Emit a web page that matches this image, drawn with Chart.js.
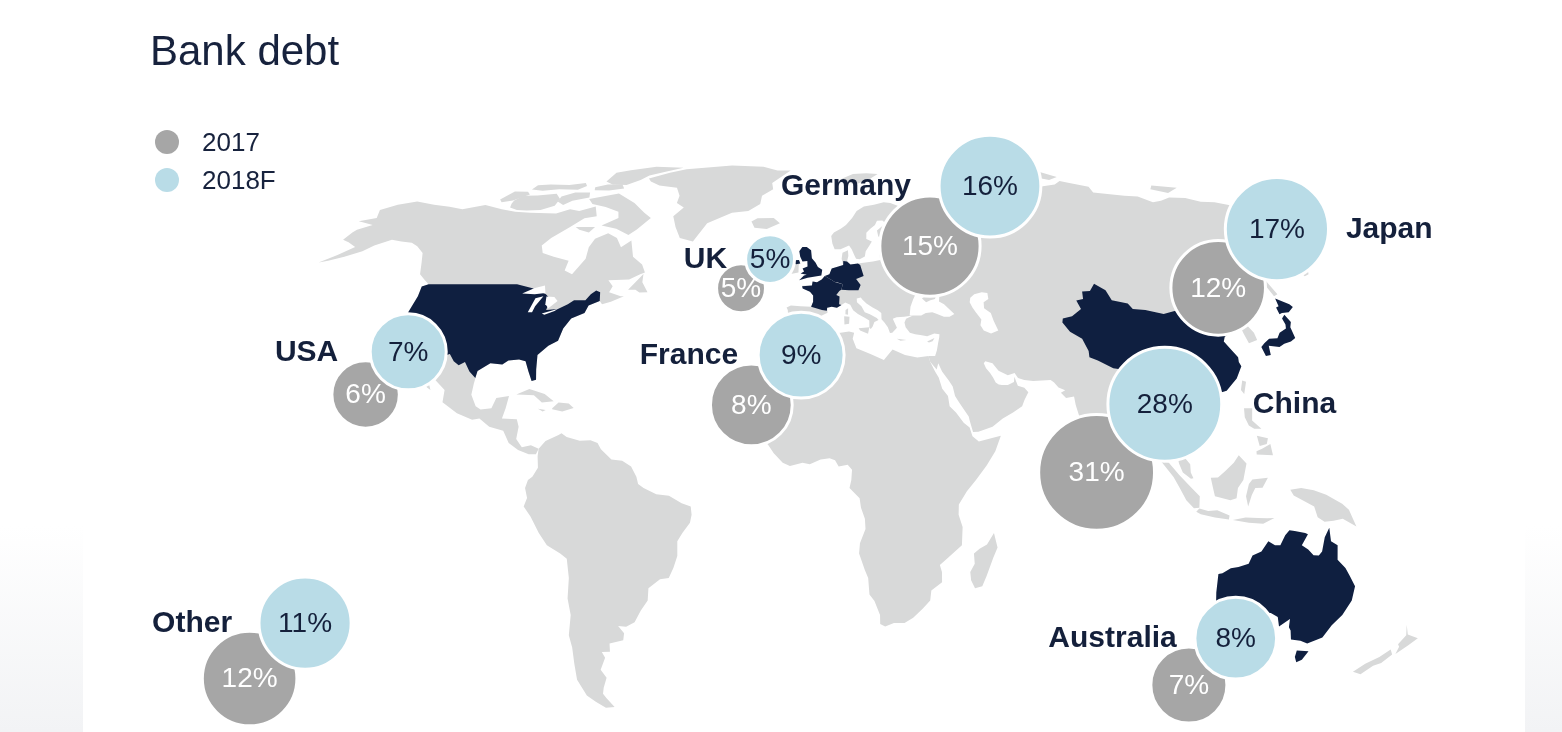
<!DOCTYPE html>
<html>
<head>
<meta charset="utf-8">
<title>Bank debt</title>
<script src="https://cdn.jsdelivr.net/npm/chart.js@4.4.1/dist/chart.umd.min.js"></script>
<style>
  html, body { margin: 0; padding: 0; background: #fff; }
  #wrap { position: relative; width: 1562px; height: 732px; overflow: hidden; font-family: "Liberation Sans", Arial, sans-serif; }
  .shade { position: absolute; background: linear-gradient(#ffffff, #f2f3f5); }
  #title { position: absolute; left: 150px; top: 30px; font-size: 42px; line-height: 42px; color: #17223d; }
  #legend { position: absolute; left: 155px; top: 123px; }
  .item { display: flex; align-items: center; height: 38px; font-size: 26px; color: #17223d; }
  .dot { width: 24px; height: 24px; border-radius: 50%; margin-right: 23px; }
  #chartBox { position: absolute; left: 0; top: 0; width: 1562px; height: 732px; }
</style>
</head>
<body>
<div id="wrap">
  <div class="shade" style="left:0;top:525px;width:83px;height:207px"></div>
  <div class="shade" style="left:1525px;top:525px;width:37px;height:207px"></div>
  <div id="chartBox"><canvas id="myChart"></canvas></div>
  <div id="title">Bank debt</div>
  <div id="legend"></div>
</div>
<script>
// ---- data ----
const countries = ["USA", "UK", "France", "Germany", "Japan", "China", "Australia", "Other"];
const share2017 = [6, 5, 8, 15, 12, 31, 7, 12];
const share2018F = [7, 5, 9, 16, 17, 28, 8, 11];
const seriesNames = ["2017", "2018F"];

// where each 2018F bubble sits on the map (lon, lat), which side the name goes, and how far
const bubbleAnchors = {
  USA: [-118.8, 32.3, "left", 70],
  UK: [-15.6, 55.4, "left", 43],
  France: [-4.6, 31.5, "left", 63],
  Germany: [72.2, 76.0, "left", 79],
  Japan: [164.8, 63.4, "right", 69],
  China: [97.9, 19.5, "right", 88],
  Australia: [124.4, -37.7, "left", 59],
  Other: [-149.7, -34.0, "left", 73],
};

const GREY = "#a6a6a6";
const BLUE = "#b9dce7";
const NAVY = "#0f1f40";
const TEXT = "#14203b";
const LAND_GREY = "#d8d9d9";

// ---- map projection (Robinson) ----
const XT = [1, 0.9986, 0.9954, 0.99, 0.9822, 0.973, 0.96, 0.9427, 0.9216, 0.8962, 0.8679, 0.835, 0.7986, 0.7597, 0.7186, 0.6732, 0.6213, 0.5722, 0.5322];
const YT = [0, 0.062, 0.124, 0.186, 0.248, 0.31, 0.372, 0.434, 0.4958, 0.5571, 0.6176, 0.6769, 0.7346, 0.7903, 0.8435, 0.8936, 0.9394, 0.9761, 1];
const robinson = (lon, lat) => {
  const a = Math.min(Math.abs(lat), 89.99) / 5;
  const i = Math.floor(a), f = a - i;
  const xt = XT[i] + (XT[i + 1] - XT[i]) * f;
  const yt = YT[i] + (YT[i + 1] - YT[i]) * f;
  return { x: 0.8487 * xt * lon * Math.PI / 180, y: 1.3523 * yt * Math.sign(lat) };
};
const UNIT = 244; // pixels per projected unit

// ---- simplified coastlines ----
const LAND = [
  // North + Central America
  [[-166,68.8],[-162,70.3],[-156.5,71.3],[-148,70.3],[-141,69.7],[-135,69],[-128,70.2],[-120,69],[-114,68.3],[-108,68],[-98,67.8],[-94,69],[-90,68.5],[-85,69.8],[-82,67],[-86,66.4],[-89,64],[-93,61],[-94.5,59],[-92.5,57],[-88,56],[-82.3,55],[-82,52.5],[-79,51.5],[-77,55.5],[-78,58.5],[-77.5,60.8],[-74,62.3],[-70,61],[-67,58.5],[-64.5,60.3],[-61.5,56],[-57.5,54],[-55.7,52],[-57,51.5],[-60,50.2],[-66.5,50],[-64.5,48.5],[-65,47],[-61,46],[-60,46],[-63.5,44.6],[-66,44],[-67,44.8],[-70,43.7],[-70.5,41.8],[-74,40.5],[-75.5,38],[-76,35],[-78.5,33.8],[-81,31.5],[-80.5,28],[-80,25.5],[-81.2,25.2],[-82.6,27.5],[-84,30],[-86,30.4],[-89,30.2],[-90.5,29.2],[-94,29.5],[-97.2,27.6],[-97.5,24.5],[-97.7,21.8],[-96,19],[-94.5,18.2],[-91.5,18.5],[-90.5,21],[-87,21.5],[-87.5,18.5],[-88.2,16],[-84,15.8],[-83.3,14],[-83.7,11],[-82,9],[-79.5,9.5],[-77.3,8.6],[-78,7.3],[-80,7.3],[-83,8.3],[-85.7,10],[-87.5,13],[-91.5,14],[-94.5,16],[-96.5,15.7],[-101,17.3],[-105.5,20],[-105.5,23],[-109.5,26],[-112.5,29.5],[-114.7,31.5],[-113,29],[-112,26.5],[-110,24],[-109.5,23],[-110.5,23.5],[-112.2,24.8],[-114,27.5],[-115,29.5],[-116.5,31.5],[-117.1,32.5],[-118.5,34],[-120.6,34.5],[-122.5,37.5],[-124.2,40.5],[-124,46],[-124.7,48.4],[-123,49],[-125,50],[-128,51.5],[-130.5,54.5],[-133,57],[-137,58.8],[-140,59.7],[-144,60],[-148,60.5],[-152,59],[-154,57.5],[-158,56],[-162,55],[-164.5,54.5],[-161,56.5],[-158,58.6],[-162,59.8],[-165,60.5],[-165,62.5],[-164.5,63.2],[-161,64.5],[-166,65.3],[-168,65.6],[-163,66.5]],
  // Arctic Canada
  [[-125,71.9],[-123,74.3],[-117.5,74.2],[-115.5,73.4],[-119.5,71.6],[-123,71]],
  [[-119,71.6],[-117.5,73],[-112,73.1],[-105,73.6],[-101.5,72],[-101,70],[-105,68.8],[-110,68.6],[-114,68.8],[-117.5,69.5],[-118.5,70.6]],
  [[-117,76.3],[-112,76.5],[-104,76.4],[-98,77],[-96,76],[-98,74.8],[-106,75],[-112,74.5],[-117,74.9]],
  [[-102,72.8],[-98,74],[-92,74],[-90.5,72.5],[-96,71.5],[-98,70.2],[-101.5,71.3]],
  [[-92,75.6],[-88,76.5],[-82,76.6],[-79.5,75.2],[-85,74.6],[-91,74.7]],
  [[-90,77.5],[-90,80.5],[-85,81.6],[-75,83],[-62,82.6],[-68,81],[-74,79.5],[-76,78],[-80,76.4],[-86,76.5]],
  [[-90,72],[-80,73.7],[-71,70.8],[-65,68],[-61.5,66.5],[-64.5,63.3],[-66.5,61.8],[-72,63.5],[-78,64.4],[-73.5,66.5],[-75,68.3],[-81,69.6],[-87,70.5]],
  [[-87,64],[-80,64],[-81,62.5],[-85,63.2]],
  [[-59.3,47.6],[-56,51.6],[-55.5,49.5],[-53,47],[-55.5,46.9],[-57,47.6]],
  // Greenland, Iceland
  [[-73,78.5],[-66,80.5],[-60,82],[-40,83.5],[-25,83],[-18,81.5],[-12,81.5],[-19,77],[-18,75],[-22,73],[-22,70.5],[-26,68.5],[-32,68],[-40,65],[-43,60],[-48,61],[-51,64],[-53.5,67],[-51,69.5],[-54.5,70.8],[-55,73],[-58,75.5],[-66,76.2],[-71,77.5]],
  [[-24,65.5],[-22,66.4],[-16,66.5],[-13.5,65],[-18,63.4],[-22.5,63.8]],
  // Caribbean
  [[-85,21.9],[-81.5,23.2],[-77,22],[-74.2,20.2],[-77.5,19.9],[-80,21.7],[-83,21.8]],
  [[-74.4,18.5],[-72.8,19.9],[-69.9,19.7],[-68.4,18.6],[-71.5,17.7],[-74.4,18.3]],
  [[-78.4,18.4],[-76.2,18.1],[-77,17.7]],
  // South America
  [[-77.3,8.6],[-75.5,10.5],[-72,12],[-71.2,12.4],[-69.7,11.5],[-66,10.6],[-63,10.7],[-61,10],[-60,8.5],[-57,6],[-54,5.7],[-51.5,4.3],[-50,1.8],[-49.5,0],[-48,-1],[-44.5,-2.5],[-41,-2.9],[-37.5,-4.7],[-35,-5.5],[-34.8,-7.5],[-35.3,-9.5],[-37.5,-12],[-39,-14],[-39.2,-17.6],[-40.5,-20.5],[-42,-23],[-44.5,-23.3],[-48,-25.5],[-48.6,-28.5],[-51,-31],[-53.3,-33.8],[-56,-34.9],[-58.3,-34.7],[-57,-36.5],[-57.7,-38.2],[-62,-39],[-62.5,-41],[-65,-41.1],[-64.5,-42.5],[-67,-45.5],[-66,-47.5],[-68,-50],[-69,-51.5],[-68.5,-52.6],[-67,-54.9],[-70,-55.1],[-72.5,-53.6],[-74.5,-52],[-75.5,-48],[-74.5,-44],[-73.5,-40],[-73.5,-37],[-71.5,-32],[-71.5,-28],[-70.3,-23],[-70.3,-18.3],[-72,-17],[-75.5,-15],[-77.5,-12],[-79.5,-8],[-81.3,-5.5],[-80.3,-3.4],[-80.8,-1],[-80,1],[-78.8,1.8],[-77.3,4],[-77.5,6.8]],
  // Eurasia
  [[-5.6,36],[-6.4,36.8],[-7.5,37.1],[-8.9,37],[-8.8,38.7],[-9.5,38.8],[-8.7,41],[-8.9,42.6],[-9.3,43.2],[-8,43.7],[-5,43.5],[-1.8,43.4],[-1.2,44.6],[-1.2,46.2],[-2.2,47.1],[-4.5,47.9],[-4.7,48.6],[-1.6,48.7],[-1.4,49.7],[0,49.5],[1.5,50.2],[2.5,51.1],[4,51.5],[4.8,53],[7,53.5],[8.6,53.9],[8.2,55.5],[8.6,57.1],[10.5,57.7],[10.5,56.2],[10,55],[11,54],[13.5,54.3],[16,54.5],[18.5,54.8],[21,55.2],[21,56.8],[24,57.2],[24.5,58.3],[23.5,59.2],[28,59.5],[30,60],[28,60.6],[25,60.3],[22.5,60.2],[21.5,61.5],[21.4,63],[25,65],[24,65.8],[22,65.7],[21,64.5],[19,63.4],[17.5,62.4],[17.2,60.7],[19,60],[18,59],[16.5,57.5],[16,56.1],[14.2,55.4],[13,55.5],[12.5,56.5],[11.8,58],[11,59],[8,58],[6,58],[5.3,59.5],[5,61.5],[6,62.5],[8.5,63.5],[10.5,64.5],[13,66.5],[15,68.5],[18,69.8],[22,70.3],[26,71],[28.5,70.8],[31,70],[33,69.4],[36,69],[41,67.5],[41,66.5],[38,64.5],[35,64.3],[37,63.8],[40,64.5],[44,66.2],[44.5,68.5],[47,67.6],[53,68.5],[58,68.6],[60.5,69.8],[66,69.5],[68.5,68.2],[67,71],[68.5,73],[70,73.5],[71,72.5],[72.5,71],[73.5,68.5],[72.5,67],[74,67.5],[75,69],[73.5,71.5],[75,72.5],[78,72.2],[80.5,73.5],[87,73.8],[89,75.5],[95,76],[100,76.5],[104,77.7],[107,77],[113,75.8],[112,74],[117,73.5],[123,73],[128,72.8],[131,71],[135,71.5],[140,72.5],[146,72.3],[150,71.2],[155,71],[160,70],[163,69.7],[167,69.6],[170,70.1],[176,69.8],[180,69],[180,65],[179,62.5],[174,61.8],[170,60],[166,60],[163,58],[162.5,56.2],[161.8,54.8],[160,53],[158.5,51.5],[156.7,51],[156,53],[155.8,57],[157,58],[160,59.5],[162,61.5],[160.5,61.8],[157,61.6],[154,59.3],[150,59.6],[145,59.3],[142,59],[138,56.5],[137.5,54],[140.5,53],[141.3,50],[140,48],[138,46.5],[136,44.5],[133,42.8],[131,42.6],[129.8,41],[128,39.5],[129.4,37],[129.3,35.2],[126.5,34.4],[126.2,36.7],[126.2,37.7],[125,39.5],[124.3,40],[122,40.5],[121.2,40.9],[121.5,39],[119,39.2],[117.7,38.9],[118.5,37.4],[120.8,37.8],[122.5,37],[120.2,36],[119.3,34.8],[120.8,32.5],[121.8,31],[121.5,29.8],[121.9,28.8],[119.6,25.8],[118,24.5],[116,22.8],[113.5,22.2],[111,21.5],[110.3,20.3],[109.7,21.5],[108,21.5],[106.5,20.3],[105.7,18.8],[107,17],[108.8,15.5],[109.3,13],[109,11.5],[107,10.4],[105,8.6],[104.5,10.5],[103,11.2],[102.3,12.2],[100.9,13.5],[100,12.8],[99.2,10],[100.3,8.3],[101,6.8],[102.2,6.2],[103.4,4.8],[103.5,2.8],[104.2,1.4],[103.5,1.3],[101.3,2.8],[100.3,5],[100.1,6.5],[98.5,8.2],[98.6,11.5],[98.2,13.5],[97.7,16.5],[96.5,17],[94.3,16],[94.5,19],[93,20.2],[92.2,21.5],[91.8,22.6],[90.5,22],[89,21.7],[87,21.4],[86.9,20.5],[85,19.5],[84,18.2],[82.2,16.6],[80.3,15.5],[80.2,13],[79.8,10.3],[78.3,8.9],[77.5,8.1],[76.6,8.9],[75.6,11.5],[74.5,14.5],[73.5,16.5],[72.8,19.3],[72.6,21.4],[70.3,21],[69,22.3],[70.3,22.9],[68.5,23.6],[67.4,24.8],[66.5,25.4],[64,25.3],[61.5,25.2],[59,25.4],[57.3,25.9],[56.5,27.1],[54.5,26.6],[52,27.7],[50.5,29.5],[48.5,30],[48,29.5],[48.5,28.3],[49.5,27.1],[50.2,26],[50.8,24.8],[51.6,24.3],[52.5,24.2],[54.2,24.2],[56,24.9],[56.3,26.2],[57,24],[58.8,23.5],[59.8,22.4],[58.5,20.5],[57.7,19],[55,17.5],[52,16],[49,14],[45,12.8],[43.5,12.7],[42.7,15.5],[42.5,16.5],[40,20],[39,21.5],[38.5,23.8],[37.5,25.3],[35.8,27.5],[34.9,29.5],[34.3,28],[32.6,29.9],[32.3,31.3],[34.2,31.3],[34.9,32.7],[35.5,34.5],[36,35.8],[36.2,36.6],[34.7,36.8],[32.5,36.1],[30.5,36.4],[29,36.6],[27.5,37],[26.4,38.3],[26.2,39.5],[26.8,40.4],[29,41.2],[26.3,40.9],[24,40.8],[22.8,40.4],[23.8,38.2],[22.3,37],[21.6,36.9],[21.1,38.3],[20.2,39.5],[19.4,40.3],[19.5,41.8],[18.5,42.5],[17,43.2],[15.2,44.2],[14,45.2],[13.6,45.7],[12.3,45.4],[12.3,44.5],[13.6,43.5],[14.5,42],[16,41.5],[18,40.6],[18.5,40.1],[17.2,39.6],[16.6,38.5],[16,37.9],[15.6,38.2],[15.7,40],[14.5,40.6],[12.4,41.6],[11,42.5],[10.2,43.9],[8.7,44.4],[7.5,43.8],[6.1,43.1],[4.5,43.4],[3.1,43.1],[3.2,41.9],[1,41],[0.3,40],[-0.3,39.4],[0.2,38.7],[-0.7,37.6],[-2.1,36.7],[-4.4,36.7]],
  // Africa, Madagascar
  [[-5.9,35.8],[-6.8,34],[-9.5,32.5],[-9.8,29.5],[-13,27.7],[-14.5,26],[-16,24],[-17,21],[-16.5,19.5],[-16,17],[-17.5,14.7],[-16.7,13],[-15,11],[-13.5,9.5],[-12,7.5],[-9.5,5.2],[-7.5,4.4],[-4,5.2],[-2,4.8],[1,6],[3.5,6.3],[5,5.8],[6,4.3],[8.5,4.7],[9.7,3.5],[9.5,1],[9,-1],[11.8,-3.5],[12.2,-5.8],[13.3,-8.5],[13.5,-11],[12,-14.5],[11.8,-17],[13.5,-21],[14.5,-23],[15,-27],[16.5,-28.6],[18.3,-32],[18.5,-34.2],[20,-34.8],[22.5,-34],[25.6,-34],[28,-32.7],[30.5,-30.5],[32.5,-28.5],[32.6,-26],[35.5,-24],[35.3,-21.5],[34.6,-19.8],[36.8,-18],[40.5,-15],[40.5,-10.5],[39.3,-7.5],[39.3,-5],[41.5,-1.8],[44,1],[47,4.5],[49.5,8],[51.2,11.8],[49,11.3],[45,10.4],[43.3,11.7],[42.6,13.8],[41,15],[39,17.5],[37.3,19],[37,21.5],[35.5,23.3],[34.7,26],[33.8,27.5],[32.6,29.9],[32.3,31.3],[29,30.9],[25.5,31.5],[22,32.9],[20,31],[19.3,30.3],[15.5,31.8],[11.5,33.2],[10.5,35.5],[11,37],[9.5,37.3],[7,37],[3,36.8],[-1,35.3],[-5.3,35.9]],
  [[49.3,-12],[50.5,-15.5],[49.5,-18],[48,-22.5],[47,-25],[45,-25.5],[43.7,-23.5],[43.3,-21.5],[44.4,-19.5],[44,-17],[45.5,-15.8],[47.5,-14.8]],
  // Europe islands
  [[-6,52],[-6,53.8],[-5.5,55],[-7.5,55.3],[-10,54],[-10,52],[-8.5,51.6]],
  [[12.4,38.1],[15.6,38.3],[15.1,36.7],[12.8,37.5]],
  [[8.2,39],[9.6,39.2],[9.8,40.9],[8.2,41]],
  [[8.6,41.5],[9.4,41.4],[9.5,43],[8.7,42.6]],
  [[23.5,35.5],[26.3,35.2],[24.5,35]],
  [[32.3,34.8],[34.6,35.7],[33.9,34.9],[32.8,34.6]],
  [[11,78.5],[16,80],[22,80.3],[27,80],[22,78],[16,76.5],[11,78]],
  [[52,71.5],[56,74],[60,76],[68.5,76.8],[62,75],[57,72.7],[55,70.6]],
  [[95,79],[100,81],[105,79],[100,78]],
  [[137,75],[140,76.2],[149,75.5],[142,73.8]],
  // Asia islands
  [[142,46],[143.5,46.5],[143,49.5],[144,53],[143,54.3],[142.2,51],[141.8,48]],
  [[120.1,23],[121,25.3],[122,25],[120.8,22]],
  [[108.7,19],[110,20],[111,19.6],[110.2,18.2],[109,18.3]],
  [[79.8,7],[80.2,9.8],[81.8,7.4],[80.6,6]],
  [[120,18.5],[122.3,18.5],[121.7,15.5],[124,13.5],[122,13.5],[120.6,14.3],[119.8,16.3]],
  [[122.5,11.8],[125.5,11.2],[125,9.8],[123,9.3]],
  [[122,7.2],[126.5,7],[126,9.8],[123.6,8.6],[122,8]],
  [[95.3,5.6],[97.5,5.2],[100.3,2.2],[103.7,-1],[106,-3],[106,-5.8],[104.5,-5.9],[102.3,-4],[100.4,-1],[98.7,1.7]],
  [[105.2,-6.8],[106,-6],[108.5,-6.6],[111,-6.4],[114.5,-7.7],[114.4,-8.7],[110.5,-8.2],[106.5,-7.4]],
  [[115.5,-8.8],[119,-8.2],[122.5,-8.3],[125,-8.4],[127,-8.3],[124,-9.7],[120,-9.5]],
  [[109,1.5],[109.6,-1],[110.2,-3],[114.5,-4],[116.2,-3.5],[116.5,-1],[118,1],[119,5],[117,7],[115.5,5.2],[113,3.1],[111,1.6]],
  [[119.5,-5.5],[120.4,-2.7],[121.3,-1],[123.3,-0.9],[124.8,1.5],[120.5,1.1],[119.5,0],[118.8,-3]],
  [[131,-1.4],[134,-1],[137.5,-1.5],[141,-2.6],[145.5,-4.8],[147.5,-6.3],[150,-10.4],[146,-8.5],[143.5,-9],[141,-9.2],[139,-8.1],[137.8,-5.5],[134.5,-4],[132,-2.8]],
  [[172.7,-34.4],[174.8,-36.8],[178.5,-37.7],[177,-39.5],[175.2,-41.6],[174.6,-39.8],[173.8,-39.2],[174.5,-37]],
  [[172.7,-40.5],[174.3,-41.7],[173,-43.8],[171.2,-44.5],[169.5,-46.6],[166.5,-46],[168.3,-44],[171,-42.3]],
];

const SEAS = [
  [[28,41.2],[28.6,43.4],[29.7,45.2],[30.8,46.6],[32,46.5],[33.5,46],[32.5,45.4],[33.6,44.5],[35,45],[36.5,45.3],[37.5,47],[39,47.2],[38,46],[37.6,44.7],[39,44],[41.6,41.6],[40,40.9],[38.3,40.9],[36,41.7],[35,42],[33,41.8],[31.5,41.2],[29,41.2]],
  [[49,46.5],[51.5,47],[53.2,46.8],[53,45.3],[51.3,44.5],[51,43],[52.7,41.8],[53,40],[53.8,37.5],[51.5,36.8],[49.5,37.5],[48.8,38.8],[49.4,40.2],[48.2,42],[47.5,43.2],[47,44.5],[47.5,45.6]],
];

const HIGHLIGHT = [
  // USA
  [[-124.7,48.4],[-123,49],[-95,49],[-89.5,48],[-84.5,46.5],[-82.5,45.3],[-82.5,42.6],[-79,42.8],[-76.5,44],[-75,45],[-71.5,45],[-70.5,46.5],[-69.2,47.4],[-67.8,47],[-67,44.8],[-70,43.7],[-70.5,41.8],[-74,40.5],[-75.5,38],[-76,35],[-78.5,33.8],[-81,31.5],[-80.5,28],[-80,25.5],[-81.2,25.2],[-82.6,27.5],[-84,30],[-86,30.4],[-89,30.2],[-90.5,29.2],[-94,29.5],[-97.2,27.6],[-97.4,25.9],[-99.5,27.5],[-101.4,29.8],[-103,29],[-104.7,30],[-106.5,31.8],[-108.2,31.3],[-111,31.3],[-114.8,32.5],[-117.1,32.5],[-118.5,34],[-120.6,34.5],[-122.5,37.5],[-124.2,40.5],[-124,46]],
  // UK
  [[-5.7,50],[-3,50.6],[1.4,51.2],[1.7,52.7],[0.3,53.4],[-0.5,54.5],[-1.7,55.6],[-2,57.7],[-3.5,58.6],[-5,58.6],[-6,57.5],[-5.6,56],[-4.8,54.8],[-3.2,54.9],[-3.1,53.5],[-4.7,53],[-4.2,52.2],[-5.3,51.7],[-3.3,51.4],[-4.2,51.2]],
  [[-5.5,54.3],[-6,55.2],[-7.3,55.1],[-8.1,54.5],[-6.9,54.1]],
  // France
  [[-4.7,48.5],[-1.6,48.7],[-1.4,49.7],[0,49.5],[1.5,50.2],[2.5,51.1],[4.8,50],[5.8,49.5],[8.2,49],[7.6,47.6],[7,47.3],[6,46.3],[7,45.9],[6.8,44],[7.5,43.8],[6.1,43.1],[4.5,43.4],[3.1,43.1],[3,42.4],[1.5,42.6],[-1.8,43.4],[-1.2,44.6],[-1.2,46.2],[-2.2,47.1],[-4.5,47.9]],
  // Benelux + Germany
  [[2.5,51.1],[4,51.5],[4.8,53],[7,53.5],[8.6,53.9],[8.7,54.9],[9.9,54.8],[11,54],[13.5,54.3],[14.2,53.9],[14.6,52.5],[15,51.1],[12.5,50.3],[13.8,48.8],[13,47.5],[10,47.5],[7.6,47.6],[8.2,49],[6.4,49.5],[5.8,49.5],[4.8,50]],
  // China
  [[73.5,39.5],[75,37.2],[78,35.5],[79,32.5],[78.8,31],[81,30.2],[85,28.3],[88.8,27.8],[92,27.8],[95.5,29],[97.5,28.3],[98.5,25],[97.7,24],[99.5,22.1],[101.5,21.2],[103,22.6],[106,22.8],[107.9,21.5],[109.7,21.5],[110.3,20.3],[111,21.5],[113.5,22.2],[116,22.8],[118,24.5],[119.6,25.8],[121.9,28.8],[121.5,29.8],[121.8,31],[120.8,32.5],[119.3,34.8],[120.2,36],[122.5,37],[120.8,37.8],[118.5,37.4],[117.7,38.9],[119,39.2],[121.5,39],[121.2,40.9],[122,40.5],[124.3,40],[126,41.2],[128.5,42],[130.5,42.5],[131,44.8],[133,45],[134.7,48.3],[132.5,47.7],[130.7,48.8],[127.5,49.8],[125.5,53],[123,53.5],[120.5,52.7],[119.5,50],[117.8,49.5],[116,47.8],[119.5,47],[115.7,45.5],[111.8,43.7],[110,42.6],[105,41.6],[100,42.6],[96.3,42.8],[95.5,44.2],[91,45],[90.5,47.5],[87.8,49.1],[85.5,47.3],[83,47.2],[82.3,45.3],[80,44.9],[80.5,42.8],[77,41],[74,40.5]],
  [[108.7,19],[110,20],[111,19.6],[110.2,18.2],[109,18.3]],
  // Japan
  [[130,31.3],[131.5,31.5],[132,33.8],[135,33.5],[136.8,34.3],[139,34.8],[140.8,35.7],[141,38.3],[142,39.6],[141.4,41.4],[140,40.5],[140,39],[139.5,38],[137,37],[135.5,35.6],[133,35.5],[131,34.4],[129.7,33.5]],
  [[140,41.5],[141,41.8],[143.2,42],[145.5,43.3],[145,44],[141.8,45.4],[141.3,43.5],[140.3,43.2]],
  // Australia
  [[113.5,-22],[114,-26.5],[115,-30],[115,-33.5],[117.5,-35],[121,-33.8],[124,-33],[126,-32.3],[129,-31.6],[131.5,-31.5],[134,-32.5],[135.5,-34.8],[137.8,-33],[138.5,-35],[139.5,-35.8],[141,-38],[144,-38.3],[146.5,-39],[150,-37.5],[150.8,-34.5],[152.5,-32],[153.5,-28.5],[153,-25],[150.8,-22.5],[149,-20.5],[146.3,-18.5],[145.5,-15],[143.5,-14],[142.5,-10.7],[141.6,-13],[141.5,-16.5],[140.8,-17.5],[139.3,-17.4],[137.5,-16],[135.5,-15],[136.8,-12.3],[136,-12],[133,-11.5],[131.5,-11.3],[130.5,-12.5],[129.5,-15],[128,-15],[126,-14],[124.5,-16.5],[122.2,-17.5],[121.5,-19.5],[118.8,-20.3],[116.7,-20.6],[114.6,-21.8]],
  [[144.6,-40.7],[148.3,-40.9],[148,-43],[146.8,-43.6],[145.3,-42.3]],
];

const LAKES = [
  [[-92,46.7],[-89,48],[-86,48.7],[-84.8,46.8],[-88,46.5]],
  [[-87.8,42],[-87.2,45.5],[-85,46],[-86.3,43.5],[-86.5,42]],
  [[-84,45.9],[-81.5,45.8],[-80,44.8],[-82,43],[-83.4,44]],
  [[-83.4,41.7],[-79,42.9],[-79.8,42.3],[-82.5,41.4]],
];

// ---- bubble sizes and positions ----
const radiusFor = (v) => 30.3 + 8.43 * Math.log(v - 4.5);

const blueData = countries.map((c, i) => {
  const [lon, lat] = bubbleAnchors[c];
  const p = robinson(lon, lat);
  return { x: p.x, y: p.y, r: radiusFor(share2018F[i]), v: share2018F[i] };
});
// each 2017 bubble tucks in below-left of its 2018F bubble
const greyData = countries.map((c, i) => {
  const b = blueData[i];
  const r = radiusFor(share2017[i]);
  const d = (0.84 * (b.r + r)) / UNIT;
  return { x: b.x - d * Math.SQRT1_2, y: b.y - d * Math.SQRT1_2, r: r, v: share2017[i] };
});

// legend
const legend = document.getElementById("legend");
[GREY, BLUE].forEach((color, i) => {
  const row = document.createElement("div");
  row.className = "item";
  row.innerHTML = `<span class="dot" style="background:${color}"></span><span>${seriesNames[i]}</span>`;
  legend.appendChild(row);
});

const mapPlugin = {
  id: "worldMap",
  beforeDatasetsDraw(chart) {
    const { ctx } = chart;
    const { x, y } = chart.scales;
    const fillRings = (rings, color) => {
      ctx.fillStyle = color;
      rings.forEach((ring) => {
        ctx.beginPath();
        ring.forEach(([lon, lat], i) => {
          const p = robinson(lon, lat);
          const px = x.getPixelForValue(p.x);
          const py = y.getPixelForValue(p.y);
          if (i) ctx.lineTo(px, py);
          else ctx.moveTo(px, py);
        });
        ctx.closePath();
        ctx.fill();
      });
    };
    ctx.save();
    fillRings(LAND, LAND_GREY);
    fillRings(SEAS, "#ffffff");
    fillRings(HIGHLIGHT, NAVY);
    fillRings(LAKES, "#ffffff");
    ctx.restore();
  },
};

const labelPlugin = {
  id: "bubbleLabels",
  afterDatasetDraw(chart, args) {
    const { ctx } = chart;
    const ds = chart.data.datasets[args.index];
    ctx.save();
    ctx.textBaseline = "middle";
    args.meta.data.forEach((el, i) => {
      ctx.font = "28px 'Liberation Sans', Arial, sans-serif";
      ctx.fillStyle = ds.labelColor;
      ctx.textAlign = "center";
      ctx.fillText(ds.data[i].v + "%", el.x, el.y + 1);
      if (ds.showNames) {
        const [, , side, offset] = bubbleAnchors[countries[i]];
        ctx.font = "bold 30px 'Liberation Sans', Arial, sans-serif";
        ctx.fillStyle = TEXT;
        ctx.textAlign = side === "left" ? "right" : "left";
        ctx.fillText(countries[i], side === "left" ? el.x - offset : el.x + offset, el.y + 1);
      }
    });
    ctx.restore();
  },
};

const ctx = document.getElementById("myChart").getContext("2d");
const myChart = new Chart(ctx, {
  type: "bubble",
  data: {
    datasets: [
      {
        label: seriesNames[0],
        data: greyData,
        backgroundColor: GREY,
        borderColor: "#ffffff",
        borderWidth: 3,
        labelColor: "#ffffff",
        showNames: false,
        order: 2,
        clip: false,
      },
      {
        label: seriesNames[1],
        data: blueData,
        backgroundColor: BLUE,
        borderColor: "#ffffff",
        borderWidth: 3,
        labelColor: TEXT,
        showNames: true,
        order: 1,
        clip: false,
      },
    ],
  },
  options: {
    responsive: true,
    maintainAspectRatio: false,
    animation: false,
    events: [],
    layout: { padding: 0, autoPadding: false },
    scales: {
      x: { type: "linear", display: false, min: -817 / UNIT, max: 745 / UNIT },
      y: { type: "linear", display: false, min: -248 / UNIT, max: 484 / UNIT },
    },
    plugins: {
      legend: { display: false },
      tooltip: { enabled: false },
    },
  },
  plugins: [mapPlugin, labelPlugin],
});
</script>
</body>
</html>
